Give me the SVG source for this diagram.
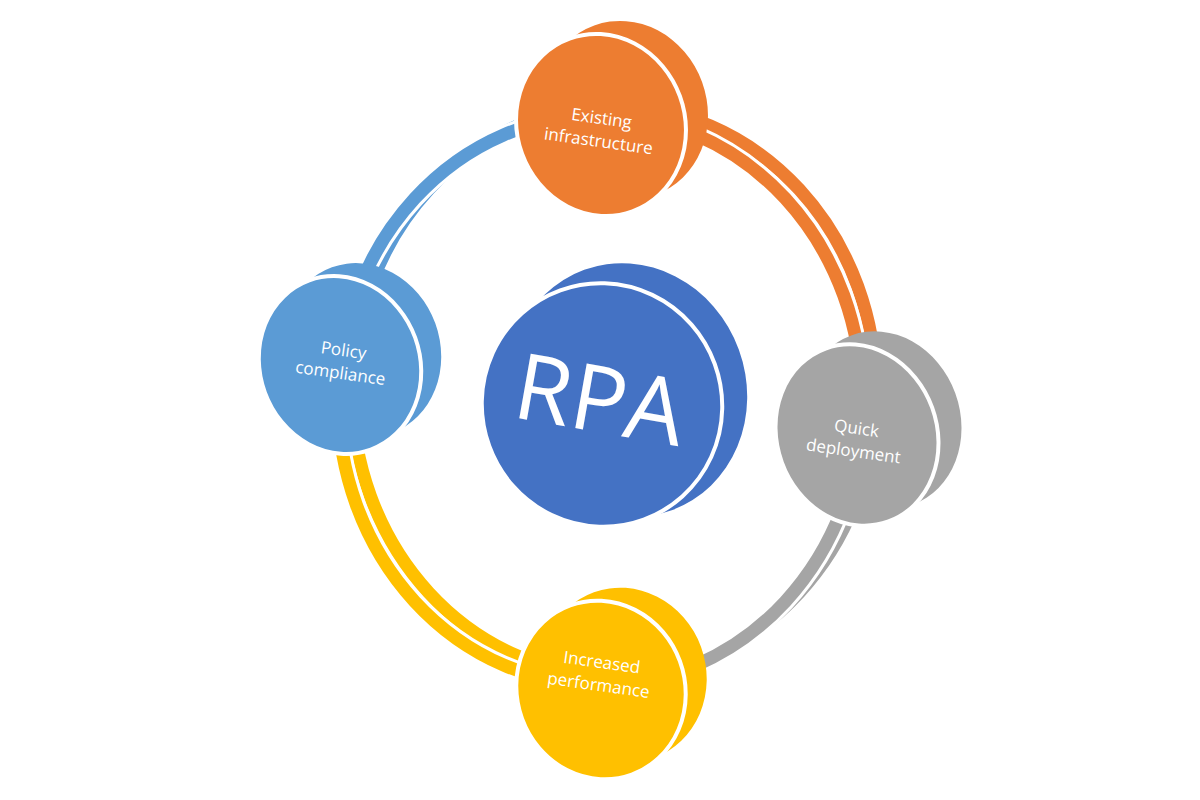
<svg xmlns="http://www.w3.org/2000/svg" width="1200" height="800" viewBox="0 0 1200 800">
<style>
.t{font-family:"Open Sans","Liberation Sans",sans-serif;fill:#fff;text-anchor:middle;font-size:17px}
.f{stroke:#fff;stroke-width:4}
.r{fill:none;stroke-width:13}
.w{fill:none;stroke:#fff;stroke-width:19}
</style>
<rect width="1200" height="800" fill="#fff"/>
<g id="connectors">
<g transform="translate(14,-9)">
<path class="r" stroke="#5B9BD5" d="M338,400 A262,285 0 0 1 600,115"/>
<path class="r" stroke="#ED7D31" d="M600,115 A262,285 0 0 1 862,400"/>
<path class="r" stroke="#A5A5A5" d="M862,400 A262,285 0 0 1 600,685"/>
<path class="r" stroke="#FFC000" d="M600,685 A262,285 0 0 1 338,400"/>
</g>
<path class="w" d="M338,400 A262,285 0 0 1 600,115 A262,285 0 0 1 862,400 A262,285 0 0 1 600,685 A262,285 0 0 1 338,400"/>
<path class="r" stroke="#5B9BD5" d="M338,400 A262,285 0 0 1 600,115"/>
<path class="r" stroke="#ED7D31" d="M600,115 A262,285 0 0 1 862,400"/>
<path class="r" stroke="#A5A5A5" d="M862,400 A262,285 0 0 1 600,685"/>
<path class="r" stroke="#FFC000" d="M600,685 A262,285 0 0 1 338,400"/>
</g>
<g id="rpa">
<ellipse cx="628" cy="390" rx="118" ry="128" transform="rotate(-20 628 390)" fill="#4472C4"/>
<ellipse class="f" cx="602" cy="405" rx="120" ry="122" transform="rotate(-20 602 405)" fill="#4472C4"/>
<text x="600" y="432" font-size="92" transform="rotate(10 600 400)" class="t" style="font-size:92px">RPA</text>
</g>
<g id="existing">
<ellipse cx="625" cy="110" rx="82" ry="90" transform="rotate(-20 625 110)" fill="#ED7D31"/>
<ellipse class="f" cx="601" cy="125" rx="84" ry="92" transform="rotate(-20 601 125)" fill="#ED7D31"/>
<g transform="rotate(8 600 130)"><text class="t" x="600" y="124">Existing</text><text class="t" x="600" y="147">infrastructure</text></g>
</g>
<g id="policy">
<ellipse cx="362" cy="350" rx="78" ry="88" transform="rotate(-20 362 350)" fill="#5B9BD5"/>
<ellipse class="f" cx="340" cy="365" rx="80" ry="90" transform="rotate(-20 340 365)" fill="#5B9BD5"/>
<g transform="rotate(8 342 362)"><text class="t" x="342" y="356">Policy</text><text class="t" x="342" y="379">compliance</text></g>
</g>
<g id="quick">
<ellipse cx="882" cy="420" rx="78" ry="90" transform="rotate(-20 882 420)" fill="#A5A5A5"/>
<ellipse class="f" cx="857" cy="435" rx="80" ry="92" transform="rotate(-20 857 435)" fill="#A5A5A5"/>
<g transform="rotate(8 855 440)"><text class="t" x="855" y="434">Quick</text><text class="t" x="855" y="457">deployment</text></g>
</g>
<g id="increased">
<ellipse cx="624" cy="675" rx="82" ry="88" transform="rotate(-20 624 675)" fill="#FFC000"/>
<ellipse class="f" cx="601" cy="690" rx="84" ry="90" transform="rotate(-20 601 690)" fill="#FFC000"/>
<g transform="rotate(8 600 675)"><text class="t" x="600" y="668">Increased</text><text class="t" x="600" y="691">performance</text></g>
</g>
</svg>
